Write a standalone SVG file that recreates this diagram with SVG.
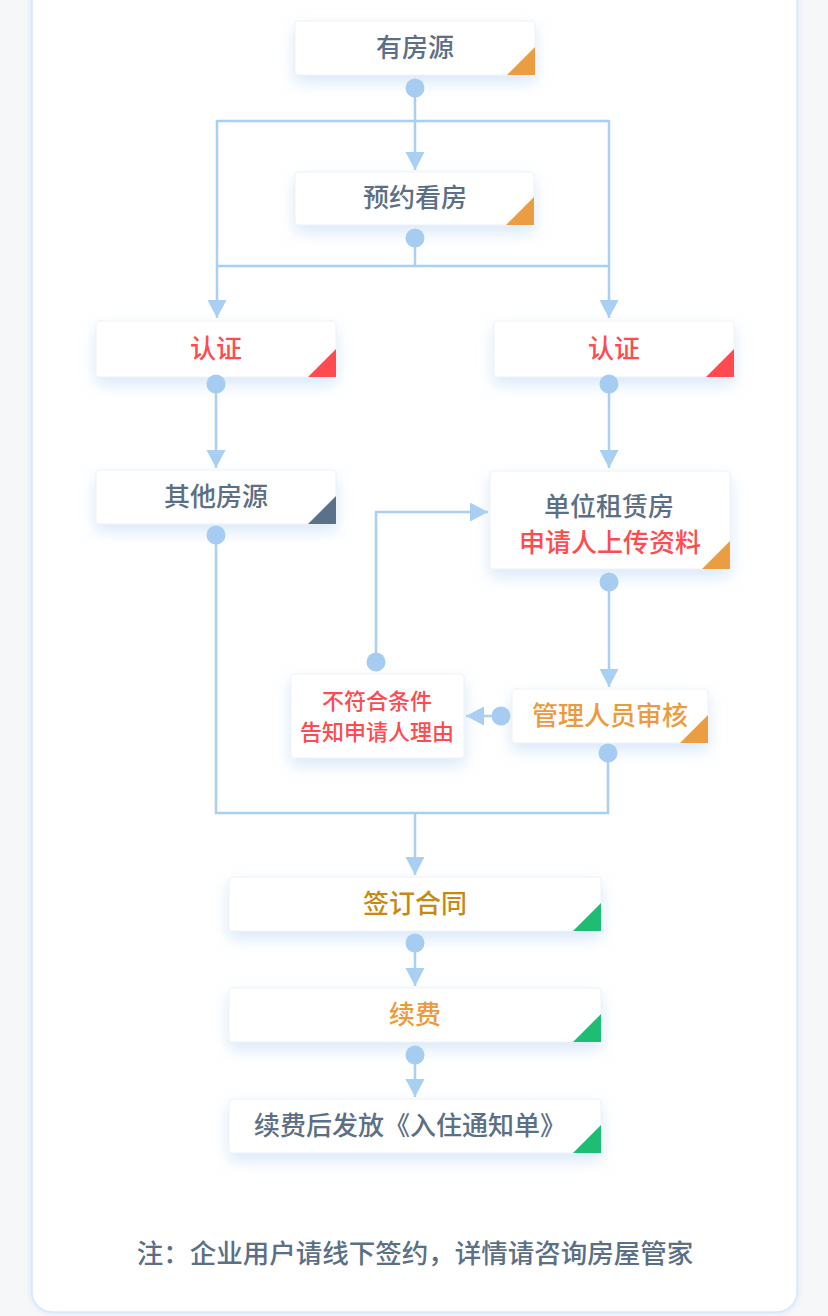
<svg xmlns="http://www.w3.org/2000/svg" width="828" height="1316" viewBox="0 0 828 1316">
<defs>
<style>
.t{font-family:"Noto Sans CJK SC","Noto Sans",sans-serif;font-size:26px;font-weight:500;text-anchor:middle;}
.slate{fill:#5b6f86;}
.red{fill:#ff4b4f;}
.orange{fill:#eb9a3c;}
.gold{fill:#c7890f;}
.box{fill:#ffffff;stroke:#eef1f5;stroke-width:1;filter:url(#sh);}
.ln{fill:none;stroke:#a9cff2;stroke-width:2.5;}
.dot{fill:#a6cdf1;}
</style>
<filter id="sh" x="-20%" y="-40%" width="140%" height="200%">
<feDropShadow dx="0" dy="7" stdDeviation="8" flood-color="#b9d5f4" flood-opacity="0.55"/>
</filter>
<filter id="cs" x="-5%" y="-5%" width="110%" height="110%">
<feDropShadow dx="0" dy="0" stdDeviation="3" flood-color="#cfe3fa" flood-opacity="0.9"/>
</filter>
<marker id="ar" markerUnits="userSpaceOnUse" markerWidth="20" markerHeight="20" refX="18" refY="9.5" orient="auto">
<path d="M0,0 L18,9.5 L0,19 Z" fill="#a9cff2"/>
</marker>
</defs>
<rect x="0" y="0" width="828" height="1316" fill="#f6f7f9"/>
<rect x="32" y="-30" width="765" height="1342" rx="20" fill="#ffffff" stroke="#d6e8fb" stroke-width="1.5" filter="url(#cs)"/>

<g id="connectors">
<polyline class="ln" points="217,121 609,121"/>
<line class="ln" x1="415" y1="88" x2="415" y2="170" marker-end="url(#ar)"/>
<line class="ln" x1="217" y1="120" x2="217" y2="318" marker-end="url(#ar)"/>
<line class="ln" x1="609" y1="120" x2="609" y2="318" marker-end="url(#ar)"/>
<polyline class="ln" points="415,238 415,266"/>
<line class="ln" x1="217" y1="266" x2="609" y2="266"/>
<line class="ln" x1="216" y1="384" x2="216" y2="468" marker-end="url(#ar)"/>
<line class="ln" x1="609" y1="384" x2="609" y2="468" marker-end="url(#ar)"/>
<polyline class="ln" points="216,535 216,813 608,813 608,753"/>
<line class="ln" x1="415" y1="813" x2="415" y2="875" marker-end="url(#ar)"/>
<line class="ln" x1="609" y1="582" x2="609" y2="687" marker-end="url(#ar)"/>
<line class="ln" x1="501" y1="716" x2="466" y2="716" marker-end="url(#ar)"/>
<polyline class="ln" points="376,662 376,512 488,512" marker-end="url(#ar)"/>
<line class="ln" x1="415" y1="943" x2="415" y2="986" marker-end="url(#ar)"/>
<line class="ln" x1="415" y1="1055" x2="415" y2="1097" marker-end="url(#ar)"/>
</g>

<g id="n1">
<rect class="box" x="295" y="21" width="240" height="54" rx="3"/>
<path d="M507,75 L535,75 L535,47 Z" fill="#eb9d42"/>
<text class="t slate" x="415" y="57">有房源</text>
</g>
<g id="n2">
<rect class="box" x="295" y="172" width="239" height="53" rx="3"/>
<path d="M506,225 L534,225 L534,197 Z" fill="#eb9d42"/>
<text class="t slate" x="415" y="207">预约看房</text>
</g>
<g id="n3">
<rect class="box" x="96" y="321" width="240" height="56" rx="3"/>
<path d="M308,377 L336,377 L336,349 Z" fill="#ff4b4f"/>
<text class="t red" x="216" y="358">认证</text>
</g>
<g id="n4">
<rect class="box" x="494" y="321" width="240" height="56" rx="3"/>
<path d="M706,377 L734,377 L734,349 Z" fill="#ff4b4f"/>
<text class="t red" x="614" y="358">认证</text>
</g>
<g id="n5">
<rect class="box" x="96" y="470" width="240" height="54" rx="3"/>
<path d="M308,524 L336,524 L336,496 Z" fill="#5a7189"/>
<text class="t slate" x="216" y="506">其他房源</text>
</g>
<g id="n6">
<rect class="box" x="490" y="471" width="240" height="98" rx="3"/>
<path d="M702,569 L730,569 L730,541 Z" fill="#eb9d42"/>
<text class="t slate" x="609" y="516">单位租赁房</text>
<text class="t red" x="610" y="552">申请人上传资料</text>
</g>
<g id="n7">
<rect class="box" x="512" y="689" width="196" height="54" rx="3"/>
<path d="M680,743 L708,743 L708,715 Z" fill="#eb9d42"/>
<text class="t orange" x="610" y="725">管理人员审核</text>
</g>
<g id="n8">
<rect class="box" x="291" y="674" width="173" height="84" rx="3"/>
<text class="t red" x="377" y="709" style="font-size:22px">不符合条件</text>
<text class="t red" x="377" y="740" style="font-size:22px">告知申请人理由</text>
</g>
<g id="n9">
<rect class="box" x="229" y="877" width="372" height="54" rx="3"/>
<path d="M573,931 L601,931 L601,903 Z" fill="#1dbe73"/>
<text class="t gold" x="415" y="913">签订合同</text>
</g>
<g id="n10">
<rect class="box" x="229" y="988" width="372" height="54" rx="3"/>
<path d="M573,1042 L601,1042 L601,1014 Z" fill="#1dbe73"/>
<text class="t orange" x="415" y="1024">续费</text>
</g>
<g id="n11">
<rect class="box" x="229" y="1099" width="372" height="54" rx="3"/>
<path d="M573,1153 L601,1153 L601,1125 Z" fill="#1dbe73"/>
<text class="t slate" x="410" y="1135">续费后发放《入住通知单》</text>
</g>

<g id="dots">
<circle class="dot" cx="415" cy="88" r="9.5"/>
<circle class="dot" cx="415" cy="238" r="9.5"/>
<circle class="dot" cx="216" cy="384" r="9.5"/>
<circle class="dot" cx="609" cy="384" r="9.5"/>
<circle class="dot" cx="216" cy="535" r="9.5"/>
<circle class="dot" cx="609" cy="582" r="9.5"/>
<circle class="dot" cx="501" cy="716" r="9.5"/>
<circle class="dot" cx="608" cy="753" r="9.5"/>
<circle class="dot" cx="376" cy="662" r="9.5"/>
<circle class="dot" cx="415" cy="943" r="9.5"/>
<circle class="dot" cx="415" cy="1055" r="9.5"/>
</g>

<text class="t slate" x="415" y="1263" style="font-size:26.5px">注：企业用户请线下签约，详情请咨询房屋管家</text>
</svg>
